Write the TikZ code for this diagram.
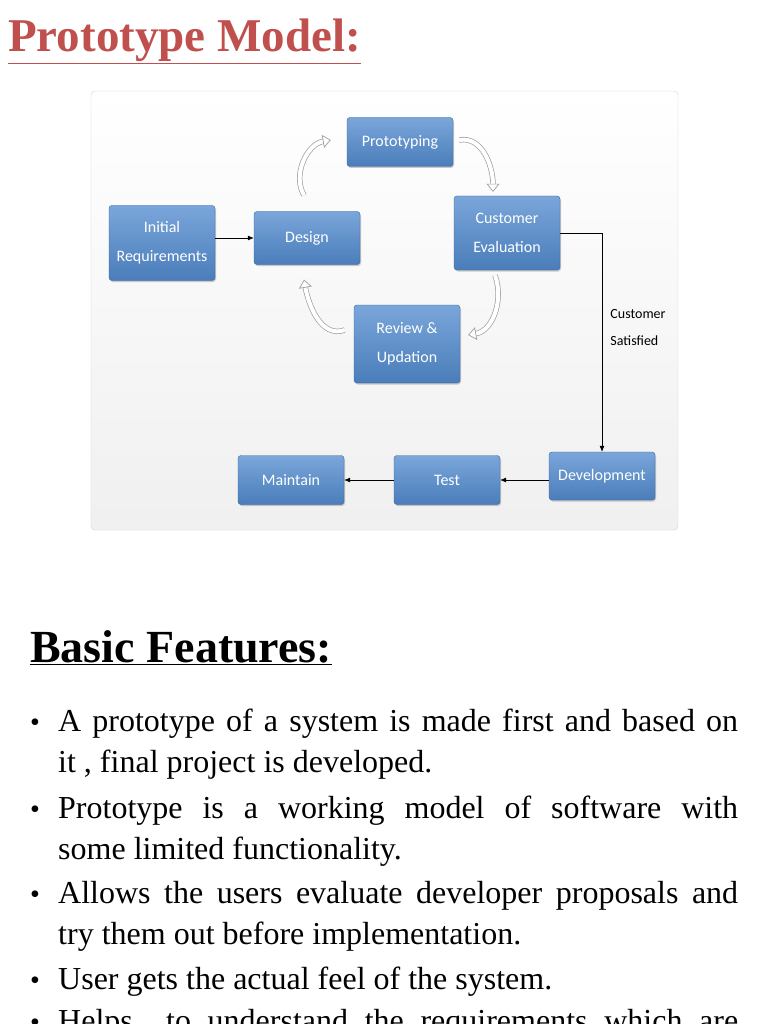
\documentclass[tikz,border=0pt]{standalone}
\usepackage{fontspec}
\setmainfont{Liberation Serif}
\newfontfamily\boxfont{Carlito}
\usetikzlibrary{positioning, arrows.meta, shadows}
\definecolor{boxtop}{HTML}{7AA6DA}
\definecolor{boxbot}{HTML}{4A7DBA}
\definecolor{boxline}{HTML}{3A65A0}
\definecolor{titlered}{HTML}{C0504D}

\begin{document}
\begin{tikzpicture}[x=1pt, y=-1pt,
        phase/.style={draw=boxline, rounded corners=3pt, top color=boxtop, bottom color=boxbot,
            minimum width=106pt, text=white, font=\boxfont\fontsize{16}{29}\selectfont, align=center,
            drop shadow={shadow xshift=1pt, shadow yshift=-1.5pt, opacity=0.4}},
        link/.style={-{Latex[length=6pt, width=5pt]}, line width=0.6pt},
        cyclearr/.style={draw=gray!75, line width=0.7pt, double=white, double distance=4pt,
            -{Triangle[open, length=8pt, width=13pt, line width=0.7pt, fill=white]}},
        item/.style={anchor=base west, text width=680pt, align=justify, inner sep=0pt,
            font=\fontsize{32}{41}\selectfont},
        dot/.style={anchor=base west, inner sep=0pt, font=\fontsize{28}{41}\selectfont}
    ]
    \fill[white] (0,0) rectangle (768,1024);
    \useasboundingbox (0,0) rectangle (768,1024);

    % panel
    \shade[top color=white, bottom color=gray!12, draw=gray!35, rounded corners=4pt] (91,91) rectangle (678,530);

    \node[anchor=base west, inner sep=0pt, text=titlered, font=\bfseries\fontsize{47}{50}\selectfont] (title) at (8,52) {\underline{Prototype Model:}};

    % boxes
    \node[phase, minimum height=75pt] (init) at (162,243) {Initial\\Requirements};
    \node[phase, minimum height=53pt] (des) at (307,238) {Design};
    \node[phase, minimum height=49pt] (proto) at (400,142) {Prototyping};
    \node[phase, minimum height=74pt] (eval) at (507,233) {Customer\\Evaluation};
    \node[phase, minimum height=78pt] (rev) at (407,344) {Review \&\\Updation};
    \node[phase, minimum height=48pt] (dev) at (602,476) {Development};
    \node[phase, minimum height=49pt] (test) at (447,480) {Test};
    \node[phase, minimum height=49pt] (maint) at (291,480) {Maintain};

    \draw[link] (init.east |- des) -- (des);
    \draw[link] (eval.east |- 0,233) -| (dev.north);
    \draw[link] (dev.west |- test) -- (test);
    \draw[link] (test) -- (maint);
    \node[font=\boxfont\fontsize{14}{27}\selectfont, align=left] (sat) at (638,328) {Customer\\Satisfied};

    % cycle arrows
    \draw[cyclearr] ([xshift=-3pt, yshift=16pt]des.north) to[out=120, in=190] ([xshift=-16pt, yshift=2pt]proto.west);
    \draw[cyclearr] ([xshift=6pt, yshift=2pt]proto.east) to[out=10, in=90] ([xshift=-14pt, yshift=4pt]eval.north);
    \draw[cyclearr] ([xshift=-12pt, yshift=-5pt]eval.south) to[out=-70, in=10] ([xshift=8pt, yshift=9pt]rev.east);
    \draw[cyclearr] ([xshift=-9pt, yshift=14pt]rev.west) to[out=200, in=-80] ([xshift=-3pt, yshift=-15pt]des.south);

    \node[anchor=base west, inner sep=0pt, font=\bfseries\fontsize{46}{50}\selectfont] (feat) at (30,662) {\underline{Basic Features:}};

    % bullets
    \node[dot] (b1) at (30,731) {\textbullet};
    \node[item] (f1) at (58,731) {A prototype of a system is made first and based on\linebreak it , final project is developed.};
    \node[dot] (b2) at (30,818) {\textbullet};
    \node[item] (f2) at (58,818) {Prototype is a working model of software with\linebreak some limited functionality.};
    \node[dot] (b3) at (30,903) {\textbullet};
    \node[item] (f3) at (58,903) {Allows the users evaluate developer proposals and\linebreak try them out before implementation.};
    \node[dot] (b4) at (30,989) {\textbullet};
    \node[item] (f4) at (58,989) {User gets the actual feel of the system.};
    \node[dot] (b5) at (30,1031) {\textbullet};
    \node[item] (f5) at (58,1031) {Helps\ \ to understand the requirements which are\linebreak not clear.};
\end{tikzpicture}
\end{document}
